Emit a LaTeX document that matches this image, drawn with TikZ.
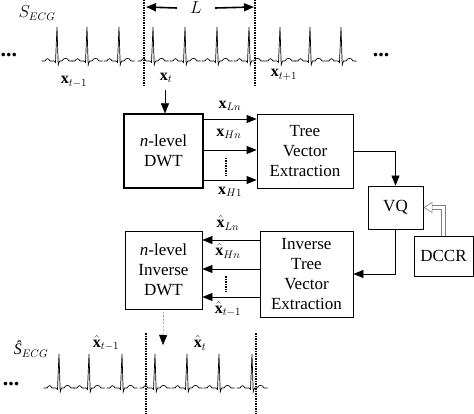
\documentclass[tikz,border=0pt]{standalone}
\usepackage{fontspec}
\setmainfont{Liberation Serif}
\usepackage{tikz}
\usetikzlibrary{arrows,arrows.meta,positioning,calc}
\tikzstyle{block}=[draw,thick,align=center,inner sep=2pt,font=\fontsize{17}{20}\selectfont]
\tikzstyle{arr}=[thick,-{Triangle[length=10pt,width=8pt]}]
\tikzstyle{lbl}=[inner sep=0pt,font=\fontsize{16}{18}\selectfont]
\tikzstyle{ell}=[inner sep=0pt,font=\fontsize{22}{22}\bfseries]
\tikzstyle{sep}=[line width=1.5pt,densely dotted]
\tikzset{beat/.pic={
  \draw[line width=0.7pt] (-15.5,0) -- (-12,0) .. controls (-10.5,-3) and (-8.5,-3) .. (-7,0)
    -- (-3,0) -- (-1.5,1.5) -- (0,-34) -- (1.2,4) -- (2.5,0) -- (5,0)
    .. controls (6.5,-3.5) and (10.5,-3.5) .. (12,0) -- (15.5,0);
}}

\begin{document}
\begin{tikzpicture}[x=1pt,y=-1pt]
\useasboundingbox (0,0) rectangle (474,414);
% input ECG
\node[lbl] (secg) at (37,13) {$S_{ECG}$};
\node[ell] (dl1) at (9,55) {...};
\node[ell] (dr1) at (381,55) {...};
\foreach \p in {57,87,119,153,185,217,249,280,310,341}
  \pic at (\p,61) {beat};
\draw[sep] (144,0) -- (144,86);
\draw[sep] (255,0) -- (255,86);
\node[lbl,minimum width=38pt] (ltxt) at (196,8) {\fontsize{17}{19}\selectfont$L$};
\coordinate (la) at (146,7);
\coordinate (lb) at (254,7);
\draw[arr,line width=1.6pt] (ltxt.west) -- (la);
\draw[arr,line width=1.6pt] (ltxt.east) -- (lb);
\node[lbl] (xtm) at (74,82) {$\mathbf{x}_{t-1}$};
\node[lbl] (xt) at (166,78) {$\mathbf{x}_{t}$};
\node[lbl] (xtp) at (284,75) {$\mathbf{x}_{t+1}$};

% blocks
\draw (163.5,151) node [block,very thick,minimum width=79pt,minimum height=74pt] (dwt) {\textit{n}-level\\DWT};
\draw (305,151) node [block,minimum width=96pt,minimum height=74pt] (tve) {Tree\\Vector\\Extraction};
\draw (395.5,207.5) node [block,minimum width=55pt,minimum height=43pt] (vq) {VQ};
\draw (443.5,256) node [block,minimum width=59pt,minimum height=40pt] (dccr) {DCCR};
\draw (306.5,274) node [block,minimum width=93pt,minimum height=86pt] (itve) {Inverse\\Tree\\Vector\\Extraction};
\draw (163.5,270) node [block,minimum width=77pt,minimum height=78pt] (idwt) {\textit{n}-level\\Inverse\\DWT};

% forward path
\coordinate (xin) at (165,90);
\draw[arr,thin] (xin) -- (xin |- dwt.north);
\foreach \y in {119,150,180}
  \draw[arr] (dwt.east |- 0,\y) -- (tve.west |- 0,\y);
\node[lbl] (xln) at (230,106) {$\mathbf{x}_{Ln}$};
\node[lbl] (xhn) at (229,134) {$\mathbf{x}_{Hn}$};
\node[lbl] (xh1) at (230,192) {$\mathbf{x}_{H1}$};
\draw[sep] (226,158) -- (226,176);
\draw[arr] (tve.east) -| (vq.north);
\draw[arr] (vq.south) |- (itve.east);
\draw[gray,double=white,line width=0.6pt,double distance=3pt,-{Triangle[open,length=9pt,width=11pt]}] (dccr.north) |- (vq.east);

% inverse path
\foreach \y in {240,269,297}
  \draw[arr] (itve.west |- 0,\y) -- (idwt.east |- 0,\y);
\node[lbl] (hxln) at (228,223) {$\hat{\mathbf{x}}_{Ln}$};
\node[lbl] (hxhn) at (228,251) {$\hat{\mathbf{x}}_{Hn}$};
\node[lbl] (hxt1) at (228,309) {$\hat{\mathbf{x}}_{t-1}$};
\draw[sep] (226,276) -- (226,292);
\coordinate (out) at (163,345);
\draw[arr,thin,densely dotted] (idwt.south) -- (out);

% reconstructed ECG
\node[lbl] (hsecg) at (31,349) {\textit{Ŝ}$_{ECG}$};
\node[ell] (dl2) at (11,384) {...};
\foreach \p in {59,89,122,155,187,219,252}
  \pic at (\p,388) {beat};
\draw[sep] (146,333) -- (146,414);
\draw[sep] (256,333) -- (256,414);
\node[lbl] (hxtm) at (106,343) {$\hat{\mathbf{x}}_{t-1}$};
\node[lbl] (hxt) at (200,343) {$\hat{\mathbf{x}}_{t}$};
\end{tikzpicture}
\end{document}
